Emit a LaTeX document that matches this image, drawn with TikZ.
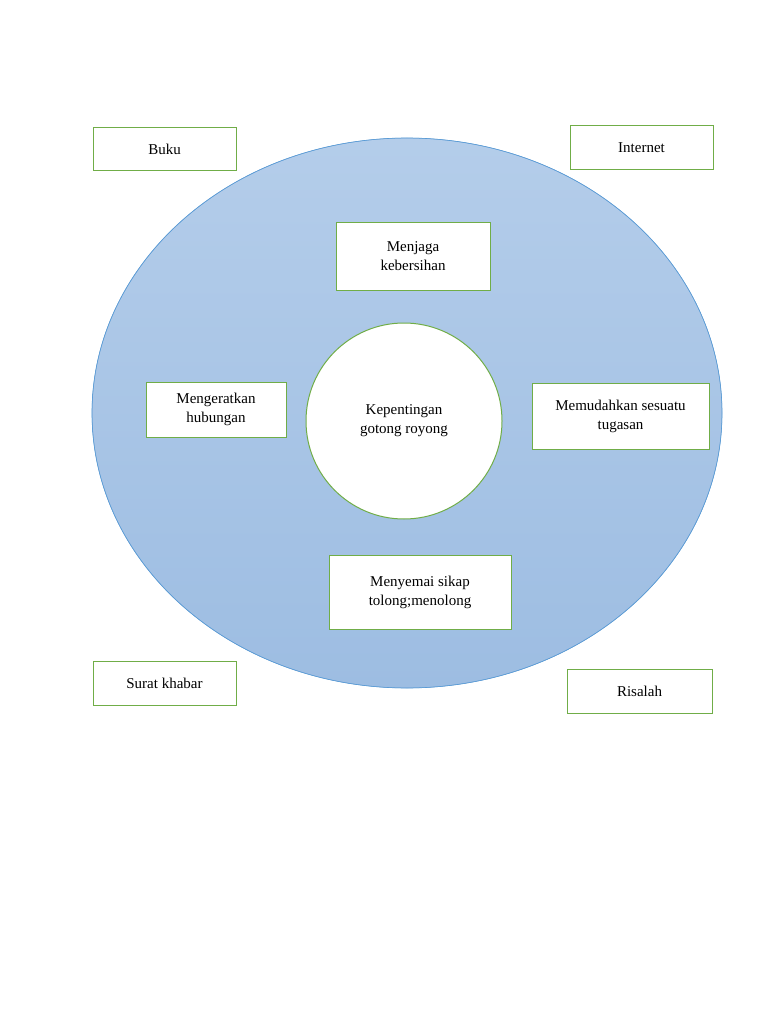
\documentclass[tikz,border=0pt]{standalone}
\usepackage{fontspec}
\setmainfont{Liberation Serif}
\begin{document}
\begin{tikzpicture}[x=1pt,y=-1pt,
  box/.style={draw=green!45!black!60!white,draw=gbord,line width=1pt,fill=white,align=center,font=\fontsize{15}{19}\selectfont},
]
\definecolor{gbord}{HTML}{70AD47}
\definecolor{btop}{HTML}{B4CDEA}
\definecolor{bbot}{HTML}{9DBDE2}
\definecolor{bline}{HTML}{5B9BD5}
\useasboundingbox (0,0) rectangle (768,1024);
\fill[white] (0,0) rectangle (768,1024);
\shade[top color=btop,bottom color=bbot,draw=bline] (407,413) ellipse [x radius=315,y radius=275];
\draw[bline,line width=0.6pt] (407,413) ellipse [x radius=315,y radius=275];
\node[box,circle,minimum size=196pt,inner sep=0pt] (c) at (404,421) {Kepentingan\\gotong royong};
\node[box,minimum width=143pt,minimum height=43pt] (buku) at (164.5,149.5) {Buku};
\node[box,minimum width=143pt,minimum height=44pt] (net) at (641.5,148) {Internet};
\node[box,minimum width=154pt,minimum height=67pt] (menjaga) at (413,256.5) {Menjaga\\kebersihan};
\node[box,minimum width=140pt,minimum height=55pt] (meng) at (216,409.5) {Mengeratkan\\hubungan};
\node[box,minimum width=177pt,minimum height=66pt] (memu) at (620.5,416) {Memudahkan sesuatu\\tugasan};
\node[box,minimum width=182pt,minimum height=74pt] (meny) at (420,592) {Menyemai sikap\\tolong;menolong};
\node[box,minimum width=143pt,minimum height=44pt] (surat) at (164.5,683) {Surat khabar};
\node[box,minimum width=145pt,minimum height=44pt] (ris) at (639.5,691) {Risalah};
\end{tikzpicture}
\end{document}
